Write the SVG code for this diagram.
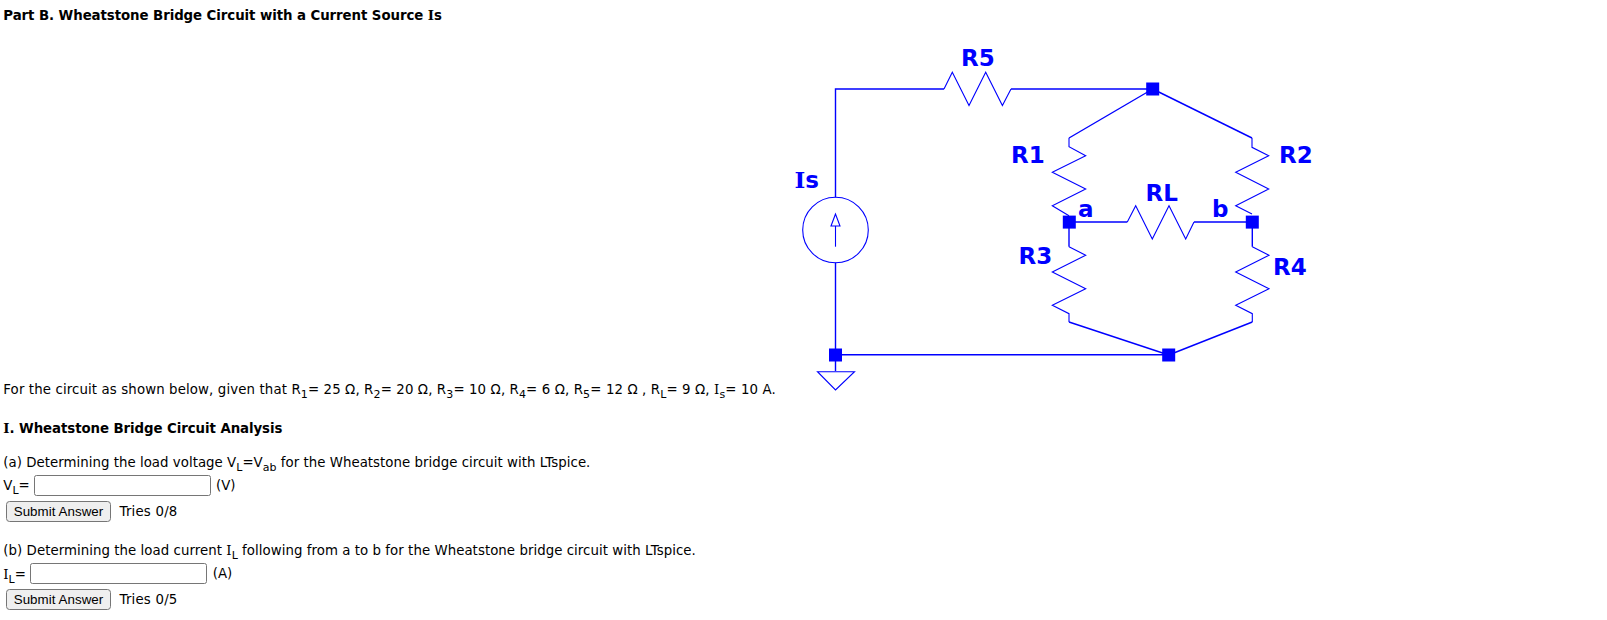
<svg xmlns="http://www.w3.org/2000/svg" width="1607" height="620" viewBox="0 0 1607 620">
<style>
text{font-family:"DejaVu Sans","Liberation Sans",sans-serif;font-size:13.33px;fill:#000}
.b{font-weight:700;letter-spacing:-.07px}
.i{font-family:"DejaVu Serif","Liberation Serif",serif}
.btn{font-family:"Liberation Sans",Arial,sans-serif;text-anchor:middle;letter-spacing:.05px}
.w{fill:none;stroke:#0000ff;stroke-width:1.4;stroke-linejoin:miter}
.r{fill:none;stroke:#0000ff;stroke-width:1.1;stroke-linejoin:miter}
.n{fill:#0000ff}
.l{font-size:23px;font-weight:700;fill:#0000ff;letter-spacing:0}
.field{fill:#fff;stroke:#767676;stroke-width:1}
.bx{fill:#efefef;stroke:#767676;stroke-width:1}
</style>
<rect width="1607" height="620" fill="#fff"/>
<g id="text">
<text class="b" x="3.3" y="20">Part B. Wheatstone Bridge Circuit with a Current Source <tspan class="i">I</tspan>s</text>
<text x="3.3" y="394.3" letter-spacing=".12">For the circuit as shown below, given that R<tspan font-size="11" dy="4">1</tspan><tspan dy="-4">= 25 Ω, R</tspan><tspan font-size="11" dy="4">2</tspan><tspan dy="-4">= 20 Ω, R</tspan><tspan font-size="11" dy="4">3</tspan><tspan dy="-4">= 10 Ω, R</tspan><tspan font-size="11" dy="4">4</tspan><tspan dy="-4">= 6 Ω, R</tspan><tspan font-size="11" dy="4">5</tspan><tspan dy="-4">= 12 Ω , R</tspan><tspan font-size="11" dy="4">L</tspan><tspan dy="-4">= 9 Ω, </tspan><tspan class="i">I</tspan><tspan font-size="11" dy="4">s</tspan><tspan dy="-4">= 10 A.</tspan></text>
<text class="b" x="3.3" y="433.3"><tspan class="i">I</tspan>. Wheatstone Bridge Circuit Analysis</text>
<text x="3.3" y="467.3" letter-spacing=".03">(a) Determining the load voltage V<tspan font-size="11" dy="4">L</tspan><tspan dy="-4">=V</tspan><tspan font-size="11" dy="4">ab</tspan><tspan dy="-4"> for the Wheatstone bridge circuit with LTspice.</tspan></text>
<text x="3.3" y="490">V<tspan font-size="11" dy="4">L</tspan><tspan dy="-4">=</tspan></text>
<text x="216" y="490">(V)</text>
<text x="119.5" y="516" letter-spacing=".2">Tries 0/8</text>
<text x="3.3" y="555.3" letter-spacing=".05">(b) Determining the load current <tspan class="i">I</tspan><tspan font-size="11" dy="4">L</tspan><tspan dy="-4"> following from a to b for the Wheatstone bridge circuit with LTspice.</tspan></text>
<text x="3.3" y="578.5"><tspan class="i">I</tspan><tspan font-size="11" dy="4">L</tspan><tspan dy="-4">=</tspan></text>
<text x="212.7" y="578">(A)</text>
<text x="119.5" y="604" letter-spacing=".2">Tries 0/5</text>
</g>
<g id="form">
<rect class="field" x="34.5" y="475.5" width="176" height="20" rx="2"/>
<rect class="bx" x="6.5" y="501.5" width="104" height="20" rx="3"/>
<text class="btn" x="58.5" y="516">Submit Answer</text>
<rect class="field" x="30.5" y="563.5" width="176" height="20" rx="2"/>
<rect class="bx" x="6.5" y="589.5" width="104" height="20" rx="3"/>
<text class="btn" x="58.5" y="604">Submit Answer</text>
</g>
<g id="connectors">
<path class="w" d="M835.5 197.3V89H944"/>
<path class="w" d="M1011 89H1152.7"/>
<path class="w" d="M1152.7 89L1069 138"/>
<path class="w" d="M1152.7 89L1252 138"/>
<path class="w" d="M1069 222H1127.3"/>
<path class="w" d="M1194 222H1252.3"/>
<path class="w" d="M1069 222V246.7"/>
<path class="w" d="M1252.3 222V246.7"/>
<path class="w" d="M1069 322L1168.7 355"/>
<path class="w" d="M1252.3 322L1168.7 355"/>
<path class="w" d="M835.5 262.7V371"/>
<path class="w" d="M835.5 354.7H1168.7"/>
</g>
<g id="R5"><path class="r" d="M944 89L952.3 72.3L969 105.5L985.7 72.3L1002.4 105.5L1011 89"/><text class="l" x="961" y="66">R5</text></g>
<g id="R1"><path class="r" d="M1069 138V146.7L1085.7 155.7L1052.3 172.3L1085.7 189L1052.3 205.7L1069 215.7"/><text class="l" x="1011" y="163">R1</text></g>
<g id="R2"><path class="r" d="M1252 138V147.3L1268.7 155.7L1235.7 172.3L1268.7 189L1235.7 205.7L1252 214"/><text class="l" x="1279" y="163">R2</text></g>
<g id="R3"><path class="r" d="M1069 246.7L1085.7 255.3L1052.3 272L1085.7 288.7L1052.3 305.3L1069 313.7V322"/><text class="l" x="1018.5" y="264">R3</text></g>
<g id="R4"><path class="r" d="M1252.3 246.7L1269 255.3L1235.7 272L1269 288.7L1235.7 305.3L1252.3 313.7V322"/><text class="l" x="1273" y="275">R4</text></g>
<g id="RL"><path class="r" d="M1127.3 222L1135.7 205.7L1152.3 239L1169 205.7L1185.7 239L1194 222"/><text class="l" x="1145.5" y="200.5">RL</text></g>
<g id="Is">
<circle class="r" cx="835.5" cy="230" r="32.8"/>
<path class="r" d="M835.5 246.7V226"/>
<path class="r" d="M835.5 214L831 226H840Z"/>
<text class="l" x="794.5" y="187.5"><tspan class="i">I</tspan>s</text>
</g>
<g id="GND"><path class="r" d="M817.5 371.7H854.5L835.5 390Z"/></g>
<g id="node-top"><rect class="n" x="1146.2" y="82.5" width="13" height="13"/></g>
<g id="node-a"><rect class="n" x="1062.8" y="215.6" width="13" height="13"/><text class="l" x="1078" y="216.7">a</text></g>
<g id="node-b"><rect class="n" x="1245.8" y="215.6" width="13" height="13"/><text class="l" x="1212" y="216.7">b</text></g>
<g id="node-bottom"><rect class="n" x="1162.2" y="348.5" width="13" height="13"/></g>
<g id="node-left"><rect class="n" x="829" y="348.5" width="13" height="13"/></g>
</svg>
